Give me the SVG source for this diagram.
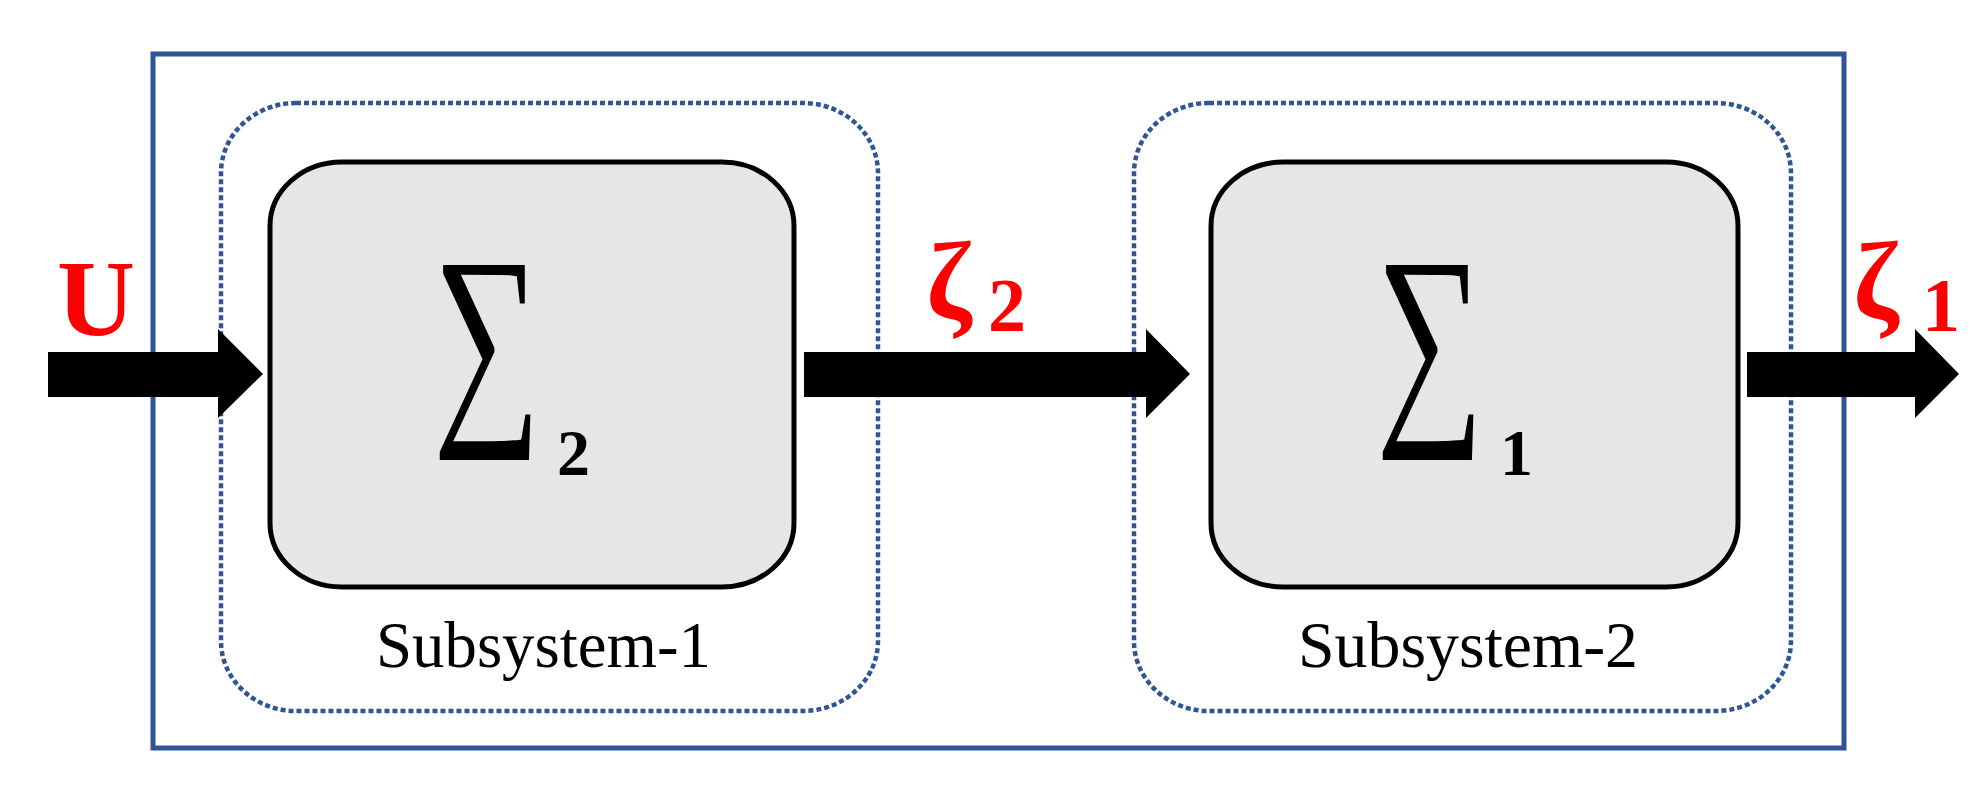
<svg xmlns="http://www.w3.org/2000/svg" width="1981" height="797" viewBox="0 0 1981 797">
<style>
.outer{fill:none;stroke:#2F5597;stroke-width:5}
.dot{fill:none;stroke:#2F5597;stroke-width:4.5;stroke-dasharray:5 3}
.box{fill:#E6E6E6;stroke:#000;stroke-width:5}
.sig{font-family:"Liberation Serif","DejaVu Serif",serif;font-size:225px;fill:#000}
.sub{font-family:"Liberation Serif",serif;font-size:66px;font-weight:bold;fill:#000}
.lbl{font-family:"Liberation Serif",serif;font-size:66px;fill:#000}
.red{font-family:"Liberation Serif","DejaVu Serif",serif;font-weight:bold;fill:#FF0000}
.arr{fill:#000}
</style>
<rect class="outer" x="153" y="54" width="1691" height="694"/>
<g id="subsystem1">
<rect class="dot" x="221" y="103" width="657" height="608" rx="75" ry="70"/>
<text class="lbl" x="376" y="667" textLength="335" lengthAdjust="spacingAndGlyphs">Subsystem-1</text>
</g>
<g id="sigma2">
<rect class="box" x="270" y="162" width="524" height="425" rx="72" ry="64"/>
<text class="sig" x="433" y="412" textLength="108" lengthAdjust="spacingAndGlyphs">∑</text>
<text class="sub" x="557" y="475">2</text>
</g>
<g id="subsystem2">
<rect class="dot" x="1134" y="103" width="657" height="608" rx="75" ry="70"/>
<text class="lbl" x="1298" y="667" textLength="340" lengthAdjust="spacingAndGlyphs">Subsystem-2</text>
</g>
<g id="sigma1">
<rect class="box" x="1211" y="162" width="527" height="425" rx="72" ry="64"/>
<text class="sig" x="1376" y="412" textLength="108" lengthAdjust="spacingAndGlyphs">∑</text>
<text class="sub" x="1500" y="475">1</text>
</g>
<g id="connectors">
<polygon class="arr" points="48,352 218,352 218,329 263,374 218,418 218,397 48,397"/>
<polygon class="arr" points="804,352 1146,352 1146,329 1190,374 1146,418 1146,397 804,397"/>
<polygon class="arr" points="1747,352 1915,352 1915,329 1959,374 1915,418 1915,397 1747,397"/>
</g>
<g id="labels">
<text class="red" x="57" y="335" font-size="108">U</text>
<text class="red" x="926" y="318" font-size="110">ζ</text>
<text class="red" x="988" y="331" font-size="76">2</text>
<text class="red" x="1853" y="318" font-size="110">ζ</text>
<text class="red" x="1922" y="331" font-size="76">1</text>
</g>
</svg>
